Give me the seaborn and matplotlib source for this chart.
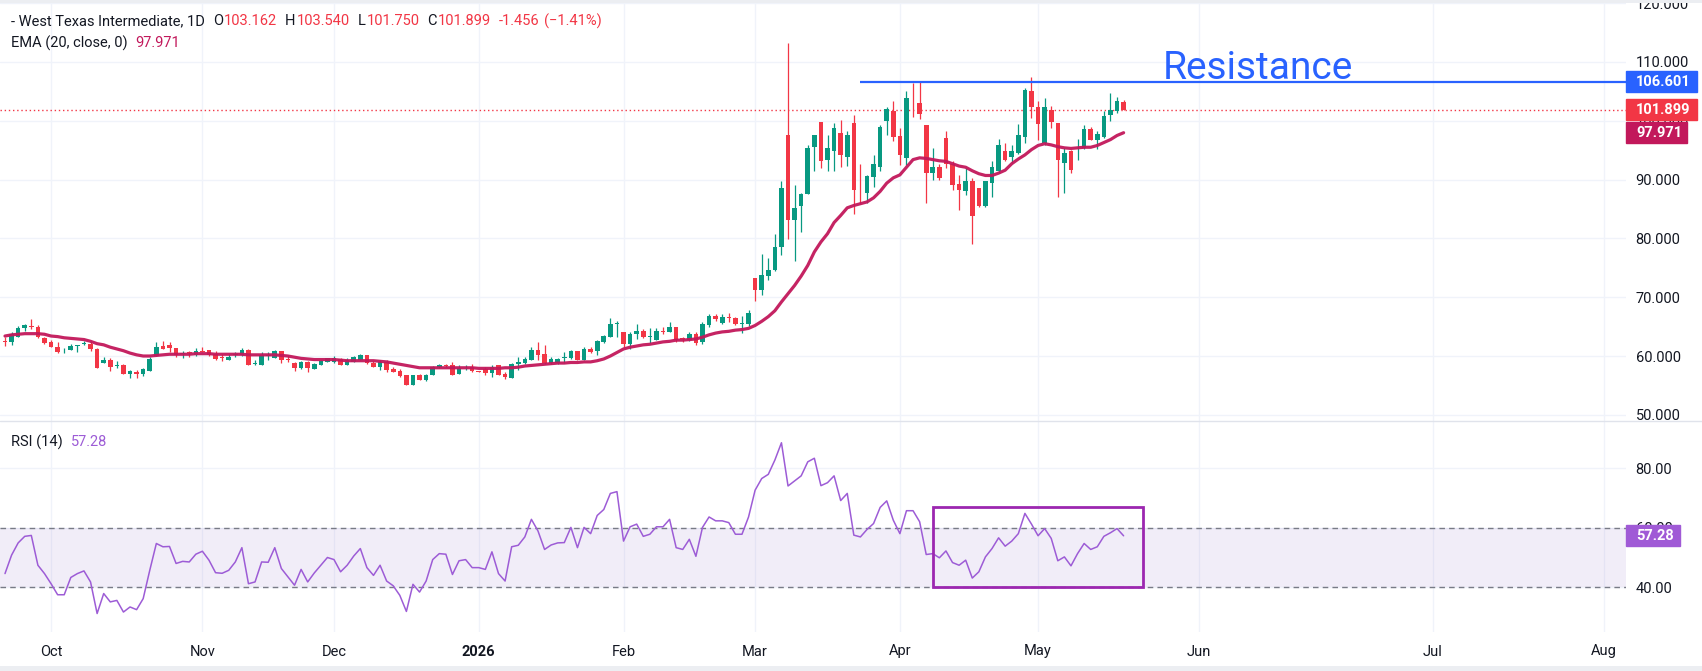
import numpy as np
import seaborn as sns
import matplotlib
matplotlib.use('Agg')
import matplotlib.pyplot as plt
from matplotlib.patches import Rectangle
from matplotlib.lines import Line2D
from matplotlib.transforms import blended_transform_factory

# daily candles, 22 Sep 2025 -> 19 May 2026 (bar index 0..170)
opens = [
    62.5, 62.3, 63.3, 64.7, 65.1, 64.9, 63.0, 62.4, 61.6, 60.6,
    61.1, 61.7, 62.0, 62.0, 61.2, 58.8, 59.3, 58.3, 58.5, 57.0,
    57.3, 57.0, 57.5, 60.0, 61.7, 61.8, 61.3, 60.3, 60.6, 60.1,
    60.9, 61.0, 60.4, 59.9, 59.4, 60.1, 60.1, 61.0, 58.6, 58.5,
    60.0, 59.7, 60.8, 59.5, 58.8, 57.9, 59.0, 57.8, 58.5, 58.9,
    58.9, 59.5, 58.5, 59.0, 59.4, 60.1, 58.8, 58.2, 59.0, 57.8,
    57.5, 56.7, 55.1, 56.7, 56.0, 56.8, 58.1, 58.4, 58.5, 57.0,
    57.9, 58.1, 57.4, 57.8, 57.1, 58.4, 56.9, 56.3, 58.7, 58.8,
    59.4, 61.0, 60.3, 58.8, 58.8, 59.7, 59.6, 60.8, 59.3, 61.2,
    60.8, 62.3, 63.3, 65.5, 64.0, 62.0, 63.7, 64.2, 63.3, 62.8,
    64.2, 64.1, 64.9, 63.0, 62.7, 63.7, 62.3, 65.3, 66.8, 65.6,
    66.6, 66.4, 65.5, 65.4, 73.2, 71.2, 73.6, 74.6, 78.5, 97.5,
    83.1, 85.5, 87.5, 95.6, 99.8, 93.3, 94.8, 97.9, 93.9, 99.6,
    88.1, 87.8, 90.4, 92.1, 99.9, 101.7, 97.4, 93.6, 103.9, 103.1,
    99.2, 91.2, 92.1, 97.1, 92.7, 89.2, 88.0, 89.7, 88.5, 85.5,
    89.5, 91.4, 94.8, 93.8, 94.5, 97.2, 105.1, 102.3, 96.3, 101.9,
    99.6, 92.9, 94.8, 95.3, 95.3, 98.6, 96.8, 97.3, 101.0, 101.6,
    103.162]
highs = [
    63.2, 64.0, 65.1, 65.4, 66.3, 65.3, 63.3, 62.8, 62.3, 61.4,
    62.0, 61.9, 62.6, 62.5, 61.3, 59.8, 59.6, 59.15, 58.6, 57.6,
    57.6, 58.0, 59.8, 62.3, 62.6, 62.3, 61.4, 60.9, 60.9, 61.3,
    61.5, 61.1, 60.8, 60.3, 60.3, 60.6, 61.4, 61.2, 59.3, 60.6,
    60.6, 61.1, 60.9, 60.06, 58.9, 59.15, 59.1, 58.75, 59.3, 59.6,
    60.06, 59.7, 59.6, 60.06, 60.3, 60.2, 59.2, 59.3, 59.3, 58.1,
    57.8, 56.8, 56.8, 56.95, 56.95, 58.25, 58.65, 58.65, 58.9, 58.4,
    58.5, 58.65, 57.4, 58.1, 58.5, 58.5, 57.2, 58.76, 59.9, 59.9,
    61.5, 62.4, 61.9, 59.8, 59.6, 60.6, 61.0, 60.9, 61.5, 61.6,
    62.8, 63.6, 66.4, 66.0, 64.0, 64.0, 65.5, 64.6, 64.7, 64.7,
    64.86, 65.7, 65.0, 63.3, 64.1, 64.1, 65.7, 67.1, 67.1, 67.2,
    67.3, 66.7, 66.8, 67.8, 73.3, 77.3, 76.6, 80.7, 89.7, 113.3,
    89.1, 87.7, 95.9, 97.5, 99.8, 97.6, 99.6, 100.2, 98.3, 101.0,
    92.7, 90.85, 94.2, 99.3, 102.4, 103.4, 98.8, 105.1, 106.5, 106.6,
    99.3, 95.3, 92.7, 98.2, 93.2, 90.7, 91.9, 90.3, 88.6, 89.8,
    93.1, 96.95, 96.2, 95.9, 99.4, 105.5, 107.4, 103.4, 103.8, 102.5,
    99.6, 95.4, 95.0, 96.9, 99.3, 99.0, 98.2, 101.6, 104.7, 104.1,
    103.540]
lows = [
    61.75, 61.9, 63.3, 64.3, 64.6, 63.05, 62.1, 61.5, 60.45, 60.55,
    61.0, 60.7, 61.9, 60.9, 58.0, 58.75, 57.5, 57.95, 56.95, 56.3,
    56.2, 56.55, 57.5, 59.95, 61.2, 60.7, 59.9, 59.7, 59.8, 60.06,
    60.6, 60.06, 59.3, 59.15, 59.3, 59.8, 60.0, 58.5, 58.4, 58.5,
    59.4, 59.6, 58.8, 58.9, 57.5, 57.85, 57.2, 57.8, 58.5, 58.9,
    58.8, 58.4, 58.5, 58.9, 59.4, 58.6, 58.1, 57.7, 57.2, 57.2,
    56.5, 55.1, 55.1, 56.0, 55.8, 56.8, 57.9, 58.2, 56.8, 56.95,
    57.7, 57.35, 57.3, 56.7, 56.5, 56.8, 56.05, 56.2, 57.6, 58.65,
    59.3, 59.3, 58.65, 58.65, 58.65, 58.8, 59.5, 59.3, 59.3, 60.45,
    60.2, 62.2, 63.2, 63.3, 61.5, 61.2, 62.9, 63.0, 62.2, 62.7,
    63.7, 64.1, 62.3, 62.3, 62.5, 61.9, 62.1, 65.0, 66.0, 65.4,
    65.7, 65.25, 63.9, 65.1, 69.4, 70.4, 72.9, 74.5, 77.2, 79.9,
    76.2, 81.1, 87.5, 91.4, 92.0, 91.4, 91.4, 92.1, 92.3, 84.2,
    85.8, 86.05, 88.7, 91.4, 97.5, 96.5, 92.5, 92.5, 100.7, 100.3,
    86.05, 89.9, 90.0, 91.9, 88.3, 84.9, 87.3, 79.0, 85.3, 85.3,
    87.0, 91.1, 93.1, 92.9, 94.4, 96.2, 100.5, 96.7, 95.8, 98.8,
    87.1, 87.7, 91.1, 93.4, 95.2, 96.7, 95.2, 97.1, 99.9, 101.4,
    101.750]
closes = [
    62.3, 63.7, 64.7, 65.3, 65.0, 63.2, 62.2, 61.6, 60.6, 60.7,
    61.7, 61.9, 62.2, 61.2, 58.0, 59.3, 58.2, 58.5, 57.0, 57.5,
    57.0, 57.8, 59.5, 61.6, 61.2, 61.4, 60.1, 60.5, 60.5, 60.8,
    60.7, 60.2, 59.5, 59.7, 59.9, 60.3, 61.0, 58.5, 58.8, 60.1,
    60.2, 60.9, 59.4, 59.4, 57.9, 59.0, 57.9, 58.6, 59.2, 59.6,
    59.6, 58.5, 59.4, 59.8, 60.1, 58.8, 58.2, 59.0, 57.6, 57.3,
    56.6, 55.1, 56.7, 56.0, 56.8, 58.1, 58.5, 58.3, 56.8, 58.0,
    58.0, 57.4, 57.3, 57.1, 58.2, 56.8, 56.4, 58.7, 58.9, 59.5,
    61.0, 60.2, 58.8, 59.5, 59.5, 59.8, 60.9, 59.3, 61.2, 60.6,
    62.6, 63.4, 65.4, 65.6, 62.0, 63.8, 64.2, 63.2, 63.4, 64.2,
    64.1, 64.9, 62.8, 62.9, 63.7, 62.2, 65.4, 66.8, 66.3, 66.7,
    66.5, 65.4, 65.6, 67.3, 71.2, 73.7, 74.7, 78.6, 88.6, 83.2,
    85.2, 87.5, 95.3, 97.5, 93.1, 95.3, 98.8, 94.1, 97.5, 88.3,
    88.0, 90.6, 92.7, 99.0, 102.0, 97.3, 94.1, 103.9, 103.8, 101.1,
    91.1, 92.1, 90.2, 92.7, 89.0, 88.2, 89.7, 83.8, 85.5, 89.7,
    92.1, 95.8, 93.4, 94.9, 97.5, 105.2, 102.4, 99.4, 102.4, 99.8,
    93.3, 94.6, 91.7, 95.4, 98.6, 96.8, 97.7, 100.8, 101.9, 103.355,
    101.899]

# EMA(20)
ema20 = [
    63.4, 63.6, 63.7, 63.8, 63.8, 63.8, 63.7, 63.4, 63.3, 63.1,
    63.0, 62.9, 62.8, 62.5, 62.1, 61.9, 61.5, 61.2, 60.9, 60.5,
    60.2, 60.0, 60.0, 60.1, 60.2, 60.3, 60.3, 60.3, 60.3, 60.4,
    60.4, 60.4, 60.3, 60.3, 60.3, 60.3, 60.3, 60.2, 60.2, 60.2,
    60.2, 60.2, 60.1, 60.0, 59.8, 59.6, 59.5, 59.4, 59.4, 59.4,
    59.4, 59.3, 59.2, 59.2, 59.2, 59.2, 59.2, 59.1, 59.0, 58.8,
    58.6, 58.4, 58.2, 58.0, 58.0, 58.0, 58.0, 58.0, 58.0, 58.0,
    58.0, 58.0, 57.9, 57.9, 57.9, 57.9, 58.0, 58.0, 58.1, 58.3,
    58.4, 58.5, 58.6, 58.7, 58.8, 58.8, 58.9, 58.9, 59.0, 59.0,
    59.2, 59.5, 60.0, 60.6, 61.2, 61.5, 61.7, 61.9, 62.0, 62.2,
    62.4, 62.5, 62.7, 62.7, 62.8, 62.9, 63.2, 63.6, 63.9, 64.1,
    64.2, 64.4, 64.5, 64.7, 65.2, 65.9, 66.7, 67.7, 69.2, 70.6,
    72.0, 73.6, 75.4, 77.7, 79.4, 80.8, 82.7, 83.9, 85.2, 85.6,
    85.9, 86.2, 86.9, 88.0, 89.4, 90.3, 90.8, 92.1, 93.4, 93.7,
    93.6, 93.4, 93.2, 93.1, 92.7, 92.3, 92.1, 91.5, 91.0, 90.7,
    90.7, 91.1, 91.6, 92.7, 93.5, 94.2, 95.1, 95.8, 96.1, 95.9,
    95.6, 95.4, 95.3, 95.4, 95.5, 95.5, 95.8, 96.3, 96.8, 97.5,
    97.971]

# RSI(14)
rsi14 = [
    44.6, 50.8, 54.9, 57.1, 57.4, 47.4, 44.6, 41.2, 37.5, 37.5,
    43.3, 44.6, 45.5, 41.8, 31.2, 37.9, 35.1, 35.6, 31.7, 33.4,
    32.5, 36.2, 45.7, 54.7, 53.6, 53.7, 48.0, 48.7, 48.5, 51.1,
    52.1, 49.1, 44.9, 44.7, 45.7, 48.5, 53.3, 41.2, 41.8, 48.5,
    48.4, 53.3, 46.3, 43.5, 40.7, 46.0, 41.8, 44.8, 47.4, 50.0,
    49.3, 45.2, 47.4, 50.5, 53.0, 46.6, 44.0, 47.4, 42.1, 40.5,
    37.3, 31.9, 41.0, 38.4, 42.1, 49.3, 51.3, 51.1, 44.3, 48.9,
    49.3, 46.6, 46.6, 46.0, 51.9, 44.6, 42.1, 53.6, 54.1, 56.9,
    62.8, 58.9, 52.7, 54.2, 54.9, 55.0, 60.1, 53.3, 60.1, 58.0,
    64.1, 66.1, 71.5, 72.1, 55.5, 60.3, 61.2, 57.1, 57.8, 60.3,
    60.3, 62.8, 53.3, 52.7, 56.1, 50.4, 60.1, 63.6, 62.3, 62.3,
    61.7, 57.8, 57.8, 63.6, 72.6, 76.5, 77.9, 82.7, 88.5, 74.0,
    75.7, 77.4, 82.1, 83.3, 74.1, 75.1, 77.4, 69.1, 71.5, 57.5,
    56.9, 59.4, 61.4, 66.8, 69.0, 62.5, 58.0, 65.7, 65.7, 62.0,
    51.0, 51.3, 49.9, 52.2, 48.3, 47.4, 49.1, 43.1, 45.2, 50.2,
    53.0, 56.6, 53.8, 55.5, 58.0, 64.8, 61.2, 57.3, 59.7, 56.4,
    48.9, 50.2, 47.2, 51.3, 54.7, 52.7, 53.6, 57.1, 58.3, 59.7,
    57.28]

# month labels and the bar index where each month starts
month_labels = ['Oct', 'Nov', 'Dec', '2026', 'Feb', 'Mar', 'Apr', 'May', 'Jun', 'Jul', 'Aug']
month_bars = [7, 30, 50, 72, 94, 114, 136, 157, 181.5, 217, 243]

resistance_level = 106.601
resistance_start = 130
rsi_box_bars = (141, 173)
rsi_box_range = (40.2, 67.0)

UP = '#089981'
DOWN = '#f23645'
EMA_C = '#c2185b'
RSI_C = '#9d5cd6'
BLUE = '#2962ff'
TXT = '#131722'
GRID = '#f0f3fa'

W, H = 1702, 671
sns.set_theme(style='white')
plt.rcParams['font.family'] = ['Roboto', 'DejaVu Sans']

fig = plt.figure(figsize=(W / 100, H / 100), dpi=100)
fig.patch.set_facecolor('white')
ax = fig.add_axes([0, 1 - 421 / H, 1626 / W, 421 / H])
ax2 = fig.add_axes([0, 1 - 632 / H, 1626 / W, 211 / H])

idx = np.arange(len(closes))
o = np.array(opens)
c = np.array(closes)
colors = np.where(c >= o, UP, DOWN)
body_lo = np.minimum(o, c)
body_h = np.maximum(np.abs(c - o), 0.14)

xlim = (-0.76, 246.35)

#price pane
ax.vlines(idx, lows, highs, colors=colors, lw=0.9, zorder=3)
ax.bar(idx, body_h, bottom=body_lo, width=0.7, color=colors, linewidth=0, zorder=4)
sns.lineplot(x=idx, y=ema20, ax=ax, color=EMA_C, lw=2.3, alpha=0.95, zorder=5, legend=False)
ax.axhline(closes[-1], color=DOWN, lw=1, ls=(0, (1, 2)), zorder=2)
ax.hlines(resistance_level, resistance_start, xlim[1], color=BLUE, lw=1.6, zorder=6)
ax.text(176, resistance_level + 0.45, 'Resistance', color=BLUE, fontsize=28, ha='left', va='baseline', zorder=7)

ax.set_xlim(xlim)
ax.set_ylim(48.95, 120.54)
ax.set_yticks(range(50, 121, 10))
ax.set_yticklabels([f'{v:.3f}' for v in range(50, 121, 10)])
ax.set_xticks(month_bars)
ax.yaxis.tick_right()
ax.tick_params(axis='y', length=0, pad=7, labelsize=10.5, colors=TXT)
ax.tick_params(axis='x', length=0, labelbottom=False)
ax.grid(True, color=GRID, lw=1)
ax.set_xlabel('')
ax.set_ylabel('')
for s in ax.spines.values():
    s.set_visible(False)

#rsi pane
ax2.axhspan(40, 60, color='#7e57c2', alpha=0.1, lw=0, zorder=1)
for lvl in (40, 60):
    ax2.axhline(lvl, color='#787b86', lw=1, ls=(0, (4, 3)), zorder=2)
sns.lineplot(x=idx, y=rsi14, ax=ax2, color=RSI_C, lw=1.1, zorder=4, legend=False)
ax2.add_patch(Rectangle((rsi_box_bars[0], rsi_box_range[0]), rsi_box_bars[1] - rsi_box_bars[0],
                        rsi_box_range[1] - rsi_box_range[0], fill=False, ec='#9c27b0', lw=2, zorder=5))
ax2.set_xlim(xlim)
ax2.set_ylim(25.0, 95.8)
ax2.set_yticks([40, 60, 80])
ax2.set_yticklabels(['40.00', '60.00', '80.00'])
ax2.yaxis.tick_right()
ax2.set_xticks(month_bars)
ax2.set_xticklabels(month_labels)
ax2.tick_params(axis='y', length=0, pad=7, labelsize=10.5, colors=TXT)
ax2.tick_params(axis='x', length=0, pad=9, labelsize=10.5, colors=TXT)
ax2.get_xticklabels()[3].set_fontweight('bold')
ax2.grid(True, color=GRID, lw=1)
ax2.set_xlabel('')
ax2.set_ylabel('')
for s in ax2.spines.values():
    s.set_visible(False)


def axis_tag(a, value, text, color, w_px, ppu):
    tr = blended_transform_factory(a.transAxes, a.transData)
    h = 21 / ppu
    a.add_patch(Rectangle((1.0, value - h / 2), w_px / 1626, h, transform=tr, color=color,
                          clip_on=False, zorder=10))
    a.text(1.0 + 10 / 1626, value, text, transform=tr, color='white', fontsize=10.5,
           fontweight='bold', ha='left', va='center', clip_on=False, zorder=11)


ppu_price = 421 / (120.54 - 48.95)
ppu_rsi = 211 / (95.8 - 25.0)
axis_tag(ax, resistance_level, f'{resistance_level:.3f}', BLUE, 71, ppu_price)
axis_tag(ax, closes[-1], f'{closes[-1]:.3f}', DOWN, 71, ppu_price)
axis_tag(ax, ema20[-1], f'{ema20[-1]:.3f}', EMA_C, 61, ppu_price)
axis_tag(ax2, rsi14[-1], f'{rsi14[-1]:.2f}', '#a05ad6', 54, ppu_rsi)

# frame bits
fig.add_artist(Line2D([0, 1], [1 - 421 / H, 1 - 421 / H], transform=fig.transFigure, color='#e0e3eb', lw=1))
fig.add_artist(Rectangle((0, 0), 1, 5 / H, transform=fig.transFigure, color='#eceef2', lw=0))
fig.add_artist(Rectangle((0, 1 - 3 / H), 1, 3 / H, transform=fig.transFigure, color='#eceef2', lw=0))

# legend lines (colored pieces)
renderer = fig.canvas.get_renderer()


def put_pieces(x_px, y_px, pieces, size=10.5):
    x = x_px
    for s, col, gap in pieces:
        t = fig.text(x / W, 1 - y_px / H, s, color=col, fontsize=size, ha='left', va='center')
        x += t.get_window_extent(renderer).width + gap


chg = closes[-1] - closes[-2]
put_pieces(11, 21, [
    ('- West Texas Intermediate, 1D', TXT, 8), ('O', TXT, 1), (f'{opens[-1]:.3f}', DOWN, 8),
    ('H', TXT, 1), (f'{highs[-1]:.3f}', DOWN, 8), ('L', TXT, 1), (f'{lows[-1]:.3f}', DOWN, 8),
    ('C', TXT, 1), (f'{closes[-1]:.3f}', DOWN, 8),
    (f'{chg:.3f}', DOWN, 4),
    (f'(\u2212{abs(chg) / closes[-2] * 100:.2f}%)', DOWN, 0)])
put_pieces(11, 43, [('EMA (20, close, 0)', TXT, 8), (f'{ema20[-1]:.3f}', EMA_C, 0)])
put_pieces(11, 442, [('RSI (14)', TXT, 8), (f'{rsi14[-1]:.2f}', RSI_C, 0)])

fig.savefig('out.png', dpi=100, facecolor='white')
